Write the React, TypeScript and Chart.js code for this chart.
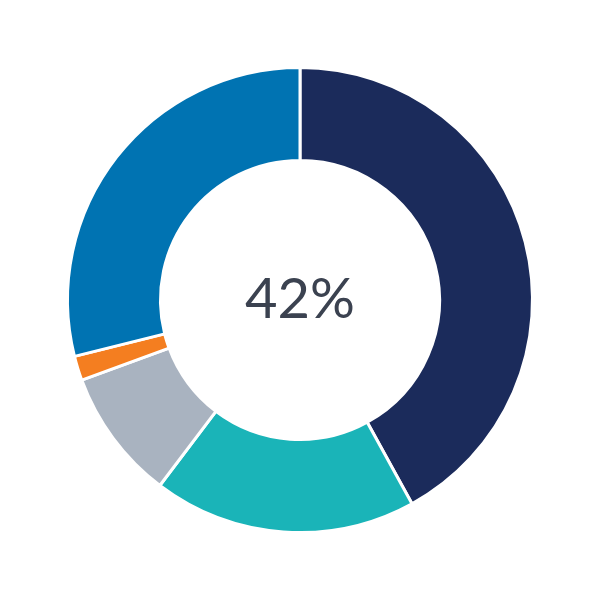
import { useEffect, useRef } from 'react';
import { Chart, registerables } from 'chart.js';
Chart.register(...registerables);

const labels = ['Navy', 'Teal', 'Gray', 'Orange', 'Blue'];
const values = [42, 18.3, 9.1, 1.7, 28.9];
const colors = ['#1b2b5b', '#1ab4b8', '#a9b3c0', '#f47e20', '#0073b2'];
const centerText = '42%';

const centerLabel = {
  id: 'centerLabel',
  afterDraw(chart: Chart) {
    const { ctx, chartArea } = chart;
    const x = (chartArea.left + chartArea.right) / 2;
    const y = (chartArea.top + chartArea.bottom) / 2;
    ctx.save();
    ctx.font = '400 56px Lato';
    ctx.fillStyle = '#3b4250';
    ctx.textAlign = 'center';
    ctx.textBaseline = 'middle';
    ctx.fillText(centerText, x, y);
    ctx.restore();
  },
};

export default function App() {
  const ref = useRef<HTMLCanvasElement>(null);

  useEffect(() => {
    const chart = new Chart(ref.current!, {
      type: 'doughnut',
      data: {
        labels,
        datasets: [{
          data: values,
          backgroundColor: colors,
          borderColor: '#ffffff',
          borderWidth: 3,
        }],
      },
      options: {
        responsive: true,
        maintainAspectRatio: false,
        animation: false,
        cutout: '60%',
        layout: { padding: 66 },
        plugins: { legend: { display: false }, tooltip: { enabled: false } },
      },
      plugins: [centerLabel],
    });
    return () => chart.destroy();
  }, []);

  return (
    <div style={{ position: 'fixed', left: 0, top: 0, width: 600, height: 600, background: '#fff' }}>
      <canvas ref={ref} />
    </div>
  );
}
